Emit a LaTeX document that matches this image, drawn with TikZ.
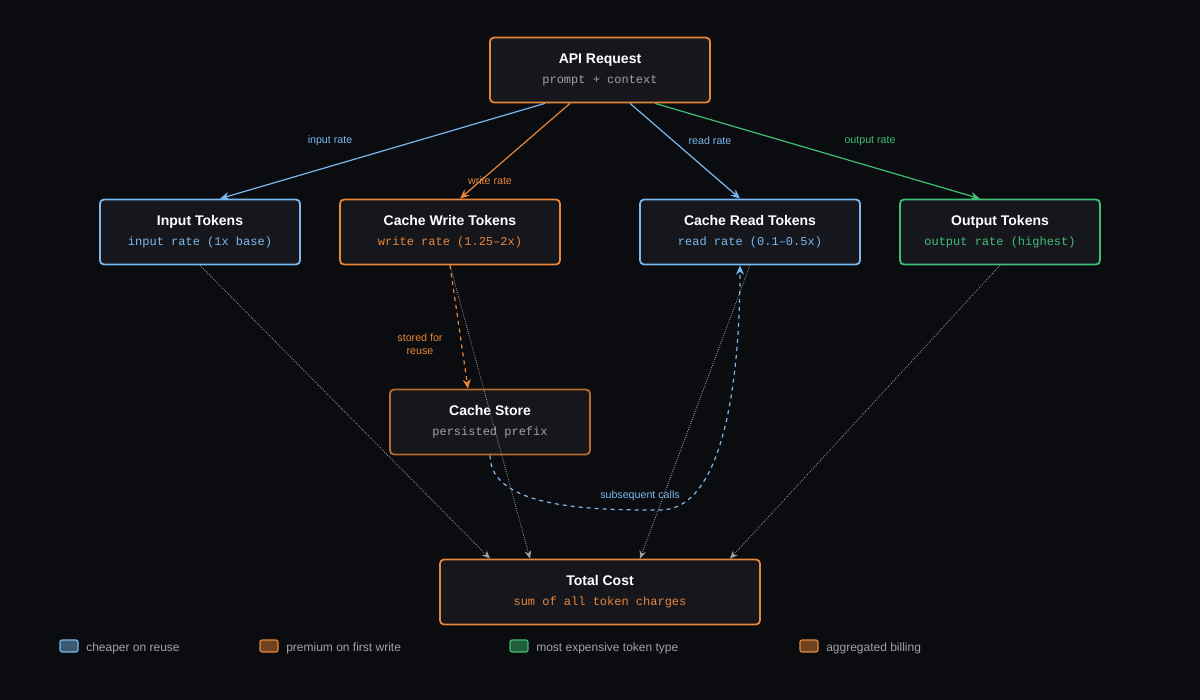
\documentclass[tikz,border=0pt]{standalone}
\usepackage{fontspec}
\setmainfont{Liberation Sans}
\setmonofont{Liberation Mono}
\usetikzlibrary{arrows.meta}
\definecolor{bg}{HTML}{0B0C0F}
\definecolor{boxfill}{HTML}{16171C}
\definecolor{cblue}{HTML}{7AB8EF}
\definecolor{corange}{HTML}{E8863A}
\definecolor{cgreen}{HTML}{3FBF74}
\definecolor{cgray}{HTML}{A0A2A8}
\newcommand{\subtxt}[2]{{\color{#1}\mdseries\ttfamily\fontsize{9}{10}\selectfont #2}}
\tikzset{
  box/.style={draw=#1, line width=1.3pt, fill=boxfill, rounded corners=3pt, align=center,
    minimum height=48.75pt, text=white, font=\bfseries\fontsize{10.5}{12}\selectfont},
  flow/.style={draw=#1, line width=0.9pt, -{Stealth[length=7pt,width=6pt]}},
  lbl/.style={font=\fontsize{8}{9.5}\selectfont, align=center},
  cost/.style={draw=cgray, densely dotted, line width=0.6pt, -{Stealth[length=6pt,width=5pt]}},
  swatch/.style={draw=#1, fill=#1!45!bg, rounded corners=1.5pt, line width=0.8pt}
}
\begin{document}
\begin{tikzpicture}[x=0.75pt, y=-0.75pt]
    \fill[bg] (0,0) rectangle (1200,700);
    \useasboundingbox (0,0) rectangle (1200,700);

    \node[box=corange, minimum width=165pt] (api) at (600,70)
        {API Request\\[3pt]\subtxt{cgray}{prompt + context}};
    \node[box=cblue, minimum width=150pt] (input) at (200,232)
        {Input Tokens\\[3pt]\subtxt{cblue}{input rate (1x base)}};
    \node[box=corange, minimum width=165pt] (write) at (450,232)
        {Cache Write Tokens\\[3pt]\subtxt{corange}{write rate (1.25–2x)}};
    \node[box=cblue, minimum width=165pt] (read) at (750,232)
        {Cache Read Tokens\\[3pt]\subtxt{cblue}{read rate (0.1–0.5x)}};
    \node[box=cgreen, minimum width=150pt] (output) at (1000,232)
        {Output Tokens\\[3pt]\subtxt{cgreen}{output rate (highest)}};
    \node[box=corange!80!black, minimum width=150pt] (store) at (490,422)
        {Cache Store\\[3pt]\subtxt{cgray}{persisted prefix}};
    \node[box=corange, minimum width=240pt] (total) at (600,592)
        {Total Cost\\[3pt]\subtxt{corange}{sum of all token charges}};

    % rates
    \draw[flow=cblue] ([xshift=-41.25pt]api.south) -- ([xshift=15pt]input.north);
    \draw[flow=corange] ([xshift=-22.5pt]api.south) -- ([xshift=7.5pt]write.north);
    \draw[flow=cblue] ([xshift=22.5pt]api.south) -- ([xshift=-7.5pt]read.north);
    \draw[flow=cgreen] ([xshift=41.25pt]api.south) -- ([xshift=-15pt]output.north);
    \node[lbl, text=cblue] at (330,141) {input rate};
    \node[lbl, text=corange] at (490,181) {write rate};
    \node[lbl, text=cblue] at (710,141) {read rate};
    \node[lbl, text=cgreen] at (870,141) {output rate};

    % cache
    \draw[flow=corange, dashed] (write.south) -- ([xshift=-16.5pt]store.north);
    \node[lbl, text=corange] at (420,344) {stored for\\reuse};
    \draw[flow=cblue, dashed] (store.south) .. controls (490,510) and (600,510) .. (660,510)
        .. controls (735,510) and (740,330) .. ([xshift=-7.5pt]read.south);
    \node[lbl, text=cblue] at (640,496) {subsequent calls};

    % charges
    \draw[cost] (input.south) -- ([xshift=-82.5pt]total.north);
    \draw[cost] (write.south) -- ([xshift=-52.5pt]total.north);
    \draw[cost] (read.south) -- ([xshift=30pt]total.north);
    \draw[cost] (output.south) -- ([xshift=97.5pt]total.north);

    % legend
    \foreach \x/\c/\t in {60/cblue/cheaper on reuse, 260/corange/premium on first write,
        510/cgreen/most expensive token type, 800/corange/aggregated billing}{
      \draw[swatch=\c] (\x,640) rectangle ++(18,12);
      \node[anchor=west, text=cgray, font=\fontsize{9}{10}\selectfont, inner sep=0pt] at (\x+26,648) {\t};
    }
\end{tikzpicture}
\end{document}
